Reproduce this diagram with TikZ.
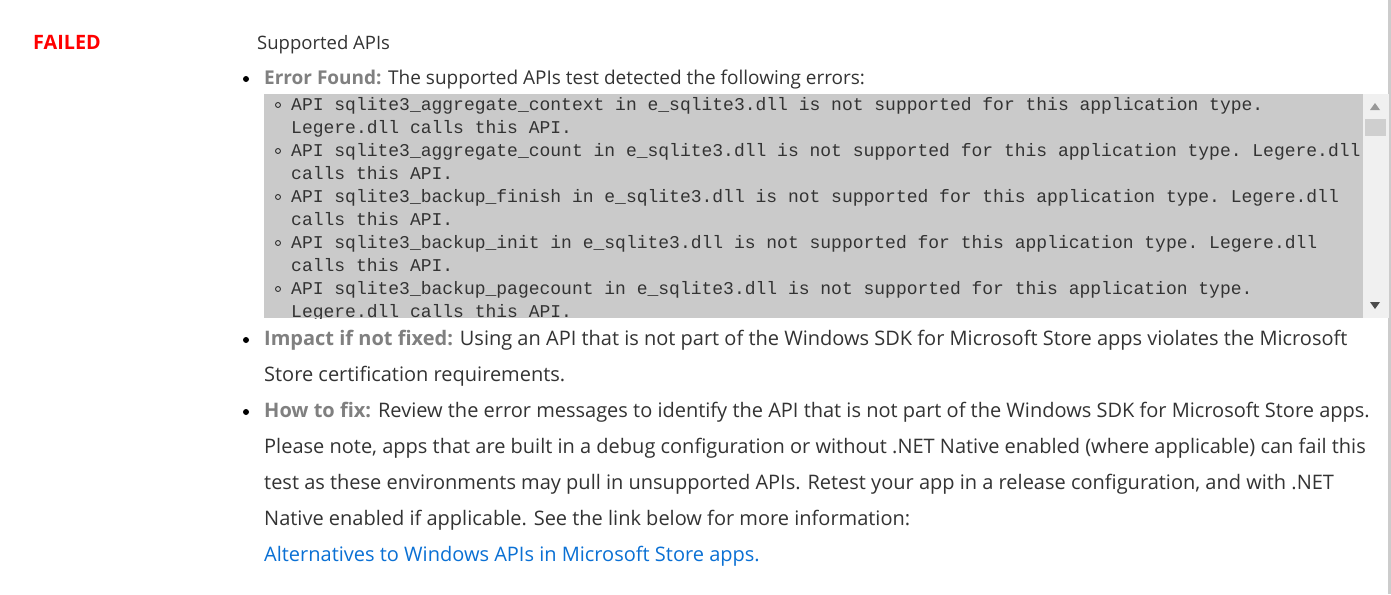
\documentclass[tikz,border=0pt]{standalone}
\usepackage{fontspec}
\setmainfont{Open Sans}
\setmonofont{Liberation Mono}
\definecolor{txt}{HTML}{333333}
\definecolor{lbl}{HTML}{808080}
\definecolor{lnk}{HTML}{0A70D4}
\definecolor{boxg}{HTML}{CACACA}
\definecolor{sbar}{HTML}{F0F0F0}
\tikzset{
 t/.style={anchor=base west,inner sep=0pt,text=txt,font=\fontsize{20}{22}\selectfont},
 m/.style={anchor=base west,inner sep=0pt,text=txt,font=\ttfamily\fontsize{18}{20}\selectfont},
 bul/.style={circle,fill=black,inner sep=0pt,minimum size=6pt},
 obul/.style={circle,draw=txt,line width=0.9pt,inner sep=0pt,minimum size=5pt}
}
\begin{document}
\begin{tikzpicture}[x=1pt,y=-1pt]
\useasboundingbox[fill=white] (0,0) rectangle (1391,594);
\fill[gray!40] (1388,0) rectangle (1391,594);
\node[t,text=red,font=\bfseries\fontsize{19.8}{22}\selectfont] (failed) at (33,49) {FAILED};
\node[t,font=\fontsize{18.5}{20}\selectfont] (title) at (257,49) {Supported APIs};
\node[bul] (b1) at (246,79) {};
\node[t,font=\fontsize{19}{20}\selectfont] (err) at (264,84) {\textcolor{lbl}{\bfseries Error Found:} The supported APIs test detected the following errors:};
\fill[boxg] (264,94) rectangle (1363,318);
\fill[sbar] (1363,94) rectangle (1389,318);
\fill[boxg!90] (1365,119) rectangle (1386,136);
\fill[gray!80] (1370,110) -- (1380,110) -- (1375,103) -- cycle;
\fill[black!70] (1370,302) -- (1380,302) -- (1375,309) -- cycle;
\begin{scope}
\clip (264,94) rectangle (1363,318);
\foreach \i/\a/\b in {
 0/{API sqlite3\_aggregate\_context in e\_sqlite3.dll is not supported for this application type.}/{Legere.dll calls this API.},
 1/{API sqlite3\_aggregate\_count in e\_sqlite3.dll is not supported for this application type. Legere.dll}/{calls this API.},
 2/{API sqlite3\_backup\_finish in e\_sqlite3.dll is not supported for this application type. Legere.dll}/{calls this API.},
 3/{API sqlite3\_backup\_init in e\_sqlite3.dll is not supported for this application type. Legere.dll}/{calls this API.},
 4/{API sqlite3\_backup\_pagecount in e\_sqlite3.dll is not supported for this application type.}/{Legere.dll calls this API.}}{
 \node[obul] (o\i) at (278,{105+46*\i}) {};
 \node[m] (ma\i) at (291,{110+46*\i}) {\a};
 \node[m] (mb\i) at (291,{133+46*\i}) {\b};
}
\end{scope}
\node[bul] (b2) at (246,340) {};
\node[t] (imp1) at (264,345) {\textcolor{lbl}{\bfseries Impact if not fixed:} Using an API that is not part of the Windows SDK for Microsoft Store apps violates the Microsoft};
\node[t] (imp2) at (264,381) {Store certification requirements.};
\node[bul] (b3) at (246,412) {};
\node[t] (fix1) at (264,417) {\textcolor{lbl}{\bfseries How to fix:} Review the error messages to identify the API that is not part of the Windows SDK for Microsoft Store apps.};
\node[t] (fix2) at (264,453) {Please note, apps that are built in a debug configuration or without .NET Native enabled (where applicable) can fail this};
\node[t] (fix3) at (264,489) {test as these environments may pull in unsupported APIs. Retest your app in a release configuration, and with .NET};
\node[t] (fix4) at (264,525) {Native enabled if applicable. See the link below for more information:};
\node[t,text=lnk] (link) at (264,561) {Alternatives to Windows APIs in Microsoft Store apps.};
\end{tikzpicture}
\end{document}
